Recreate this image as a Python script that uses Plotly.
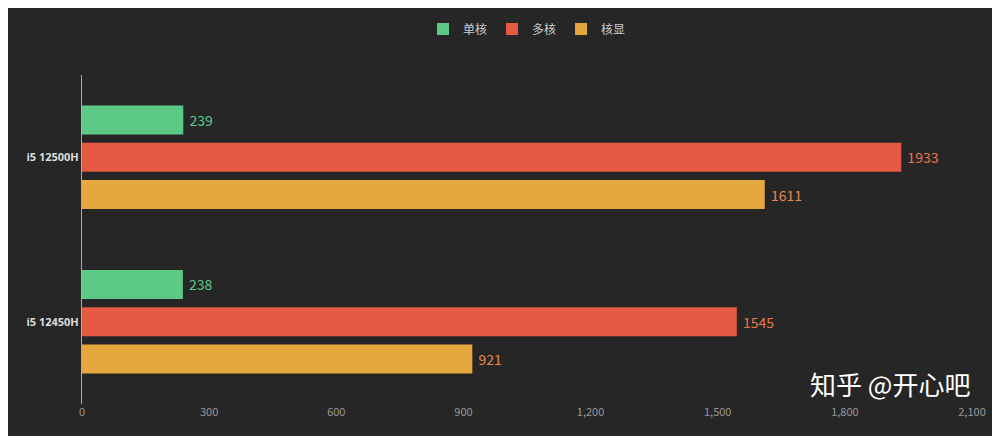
import plotly.graph_objects as go

# CPU benchmark data
cpus = ['i5 12450H', 'i5 12500H']
single = [238, 239]
multi = [1545, 1933]
igpu = [921, 1611]

fig = go.Figure()
fig.add_trace(go.Bar(y=cpus, x=igpu, name='核显', orientation='h',
                     marker=dict(color='#e4a83e', line=dict(width=0)),
                     text=[' %d' % v for v in igpu], textposition='outside',
                     textfont=dict(color='#e8894a', size=14)))
fig.add_trace(go.Bar(y=cpus, x=multi, name='多核', orientation='h',
                     marker=dict(color='#e65a44', line=dict(width=0)),
                     text=[' %d' % v for v in multi], textposition='outside',
                     textfont=dict(color='#e8764a', size=14)))
fig.add_trace(go.Bar(y=cpus, x=single, name='单核', orientation='h',
                     marker=dict(color='#5cc984', line=dict(width=0)),
                     text=[' %d' % v for v in single], textposition='outside',
                     textfont=dict(color='#5cc98a', size=14)))

fig.update_layout(
    width=984, height=428,
    paper_bgcolor='#262626', plot_bgcolor='#262626',
    font=dict(family='Noto Sans CJK SC, Open Sans', color='#cccccc', size=12),
    margin=dict(l=74, r=20, t=67, b=32, autoexpand=False),
    barmode='group', bargap=0.32, bargroupgap=0.22,
    legend=dict(orientation='h', x=0.5, xanchor='center', y=0.985, yanchor='top',
                yref='container', traceorder='reversed',
                font=dict(size=12, color='#cccccc')),
    xaxis=dict(range=[0, 2100], dtick=300, tickformat=',', showgrid=False,
               zeroline=False, showline=False, automargin=False,
               tickfont=dict(size=11, color='#999999')),
    yaxis=dict(categoryorder='array', categoryarray=cpus, showgrid=False,
               showline=True, linecolor='#aaaaaa', linewidth=1,
               automargin=False, ticks='',
               tickfont=dict(size=11, color='#dddddd', family='Open Sans', weight='bold')),
    annotations=[dict(text='知乎 @开心吧', x=1.0, y=0.0, xref='paper', yref='paper',
                      xanchor='right', yanchor='bottom', showarrow=False,
                      font=dict(size=26, color='#ffffff',
                                family='Noto Sans CJK SC'))],
)
fig.write_html('out.html')
